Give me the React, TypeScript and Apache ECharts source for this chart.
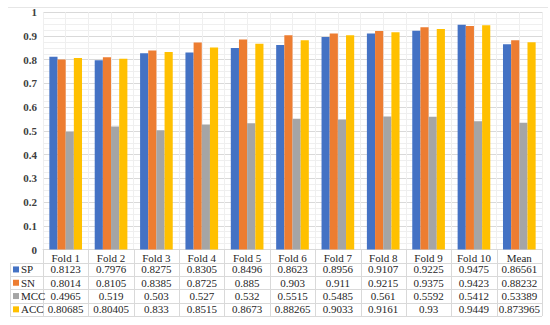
import React, { useEffect, useRef } from "react";
import * as echarts from "echarts";

const categories = ["Fold 1", "Fold 2", "Fold 3", "Fold 4", "Fold 5", "Fold 6", "Fold 7", "Fold 8", "Fold 9", "Fold 10", "Mean"];
const seriesNames = ["SP", "SN", "MCC", "ACC"];
const colors = ["#4472C4", "#ED7D31", "#A5A5A5", "#FFC000"];
const sp = [0.8123, 0.7976, 0.8275, 0.8305, 0.8496, 0.8623, 0.8956, 0.9107, 0.9225, 0.9475, 0.86561];
const sn = [0.8014, 0.8105, 0.8385, 0.8725, 0.885, 0.903, 0.911, 0.9215, 0.9375, 0.9423, 0.88232];
const mcc = [0.4965, 0.519, 0.503, 0.527, 0.532, 0.5515, 0.5485, 0.561, 0.5592, 0.5412, 0.53389];
const acc = [0.80685, 0.80405, 0.833, 0.8515, 0.8673, 0.88265, 0.9033, 0.9161, 0.93, 0.9449, 0.873965];
const yTicks = [0, 0.1, 0.2, 0.3, 0.4, 0.5, 0.6, 0.7, 0.8, 0.9, 1];

const W = 550;
const H = 325;
const GRID_L = 43;
const GRID_R = 542;
const GRID_T = 12.3;
const GRID_B = 249.5;
const ROW_H = 13.3;
const TABLE_L = 10;
const LINE = "#d9d9d9";
const FONT = "'Liberation Serif', 'Times New Roman', serif";
const TEXT = "#262626";

export default function App() {
  const ref = useRef<HTMLDivElement>(null);
  useEffect(() => {
    document.body.style.margin = "0";
    if (!ref.current) return;
    const chart = echarts.init(ref.current, null, { renderer: "svg" });
    const values = [sp, sn, mcc, acc];
    chart.setOption({
      animation: false,
      backgroundColor: "#ffffff",
      grid: { left: GRID_L, right: W - GRID_R, top: GRID_T, bottom: H - GRID_B },
      xAxis: [
        {
          type: "category",
          data: categories,
          axisTick: { show: false },
          axisLine: { show: true, lineStyle: { color: LINE, width: 1 } },
          axisLabel: { fontFamily: FONT, fontSize: 11, color: TEXT, margin: 3 },
          splitLine: { show: true, lineStyle: { color: LINE, width: 1 } },
        },
        {
          type: "value",
          min: 0,
          max: categories.length * 2,
          interval: 1,
          position: "bottom",
          axisLine: { show: false },
          axisTick: { show: false },
          axisLabel: { show: false },
          splitLine: { show: true, lineStyle: { color: "#efefef", width: 1 } },
        },
      ],
      yAxis: {
        type: "value",
        min: yTicks[0],
        max: yTicks[yTicks.length - 1],
        interval: 0.1,
        axisLine: { show: false },
        axisTick: { show: false },
        axisLabel: {
          fontFamily: FONT,
          fontSize: 11,
          fontWeight: "bold",
          color: "#404040",
          margin: 6,
          formatter: (v: number) => String(Math.round(v * 10) / 10),
        },
        splitLine: { show: true, lineStyle: { color: LINE, width: 1 } },
        minorTick: { show: false, splitNumber: 4 },
        minorSplitLine: { show: true, lineStyle: { color: "#efefef", width: 1 } },
      },
      series: seriesNames.map((name, i) => ({
        name,
        type: "bar",
        data: values[i],
        xAxisIndex: 0,
        itemStyle: { color: colors[i] },
        barGap: "0%",
        barCategoryGap: "28%",
      })),
    });

    const graphics: any[] = [];
    const n = categories.length;
    const cw = (GRID_R - GRID_L) / n;
    const tableBottom = GRID_B + ROW_H * 5;
    // horizontal lines of the table
    for (let r = 1; r <= 5; r++) {
      const y = Math.round(GRID_B + ROW_H * r) + 0.5;
      graphics.push({
        type: "line",
        shape: { x1: TABLE_L, y1: y, x2: GRID_R, y2: y },
        style: { stroke: LINE, lineWidth: 1 },
        silent: true,
      });
    }
    // vertical lines: left border and category boundaries
    graphics.push({
      type: "line",
      shape: { x1: TABLE_L + 0.5, y1: GRID_B + ROW_H, x2: TABLE_L + 0.5, y2: tableBottom },
      style: { stroke: LINE, lineWidth: 1 },
      silent: true,
    });
    for (let i = 0; i <= n; i++) {
      const x = Math.round(GRID_L + cw * i) + 0.5;
      graphics.push({
        type: "line",
        shape: { x1: x, y1: GRID_B, x2: x, y2: tableBottom },
        style: { stroke: LINE, lineWidth: 1 },
        silent: true,
      });
    }
    // top border line of the chart area
    graphics.push({
      type: "line",
      shape: { x1: 8, y1: 7.5, x2: 548, y2: 7.5 },
      style: { stroke: "#e6e6e6", lineWidth: 1 },
      silent: true,
    });
    // rows
    values.forEach((vals, r) => {
      const cy = GRID_B + ROW_H * (r + 1) + ROW_H / 2;
      graphics.push({
        type: "rect",
        shape: { x: 13, y: cy - 3, width: 6, height: 6 },
        style: { fill: colors[r] },
        silent: true,
      });
      graphics.push({
        type: "text",
        x: 21,
        y: cy,
        style: {
          text: seriesNames[r],
          font: `11px ${FONT}`,
          fill: TEXT,
          textAlign: "left",
          textVerticalAlign: "middle",
        },
        silent: true,
      });
      vals.forEach((v, i) => {
        const px = chart.convertToPixel({ xAxisIndex: 0 }, i) as number;
        graphics.push({
          type: "text",
          x: px,
          y: cy,
          style: {
            text: String(v),
            font: `11px ${FONT}`,
            fill: TEXT,
            textAlign: "center",
            textVerticalAlign: "middle",
          },
          silent: true,
        });
      });
    });
    chart.setOption({ graphic: { elements: graphics } });
    return () => chart.dispose();
  }, []);
  return <div ref={ref} style={{ width: W, height: H }} />;
}
